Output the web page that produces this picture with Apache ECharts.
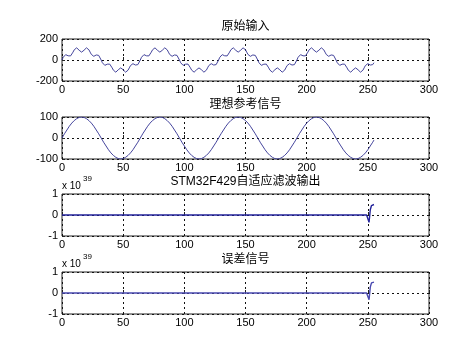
<!DOCTYPE html>
<html>
<head>
<meta charset="utf-8">
<script src="https://cdn.jsdelivr.net/npm/echarts@6/dist/echarts.min.js"></script>
<style>
  html, body { margin: 0; padding: 0; background: #fff; }
  #chart { width: 474px; height: 355px; }
</style>
</head>
<body>
<div id="chart"></div>
<script>
// 原始输入 (sample index 0..255)
const rawInput = [
  0,26,44,51,48,40,35,39,53,75,97,112,116,108,93,80,75,80,93,108,116,112,97,75,53,39,35,40,48,51,44,26,0,-26,-44,-51,-48,-40,-35,-39,-53,-75,-97,-112,-116,-108,-93,-80,-75,-80,-93,-108,-116,-112,-97,-75,-53,-39,-35,-40,-48,-51,-44,-26,
  0,26,44,51,48,40,35,39,53,75,97,112,116,108,93,80,75,80,93,108,116,112,97,75,53,39,35,40,48,51,44,26,0,-26,-44,-51,-48,-40,-35,-39,-53,-75,-97,-112,-116,-108,-93,-80,-75,-80,-93,-108,-116,-112,-97,-75,-53,-39,-35,-40,-48,-51,-44,-26,
  0,26,44,51,48,40,35,39,53,75,97,112,116,108,93,80,75,80,93,108,116,112,97,75,53,39,35,40,48,51,44,26,0,-26,-44,-51,-48,-40,-35,-39,-53,-75,-97,-112,-116,-108,-93,-80,-75,-80,-93,-108,-116,-112,-97,-75,-53,-39,-35,-40,-48,-51,-44,-26,
  0,26,44,51,48,40,35,39,53,75,97,112,116,108,93,80,75,80,93,108,116,112,97,75,53,39,35,40,48,51,44,26,0,-26,-44,-51,-48,-40,-35,-39,-53,-75,-97,-112,-116,-108,-93,-80,-75,-80,-93,-108,-116,-112,-97,-75,-53,-39,-35,-40,-48,-51,-44,-26
];

// 理想参考信号
const refSignal = [
  0,10,20,29,38,47,56,63,71,77,83,88,92,96,98,100,100,100,98,96,92,88,83,77,71,63,56,47,38,29,20,10,0,-10,-20,-29,-38,-47,-56,-63,-71,-77,-83,-88,-92,-96,-98,-100,-100,-100,-98,-96,-92,-88,-83,-77,-71,-63,-56,-47,-38,-29,-20,-10,
  0,10,20,29,38,47,56,63,71,77,83,88,92,96,98,100,100,100,98,96,92,88,83,77,71,63,56,47,38,29,20,10,0,-10,-20,-29,-38,-47,-56,-63,-71,-77,-83,-88,-92,-96,-98,-100,-100,-100,-98,-96,-92,-88,-83,-77,-71,-63,-56,-47,-38,-29,-20,-10,
  0,10,20,29,38,47,56,63,71,77,83,88,92,96,98,100,100,100,98,96,92,88,83,77,71,63,56,47,38,29,20,10,0,-10,-20,-29,-38,-47,-56,-63,-71,-77,-83,-88,-92,-96,-98,-100,-100,-100,-98,-96,-92,-88,-83,-77,-71,-63,-56,-47,-38,-29,-20,-10,
  0,10,20,29,38,47,56,63,71,77,83,88,92,96,98,100,100,100,98,96,92,88,83,77,71,63,56,47,38,29,20,10,0,-10,-20,-29,-38,-47,-56,-63,-71,-77,-83,-88,-92,-96,-98,-100,-100,-100,-98,-96,-92,-88,-83,-77,-71,-63,-56,-47,-38,-29,-20,-10
];

// 自适应滤波输出 / 误差 (units of 1e39), flat at 0 until the blow-up near the end
const blowIdx = [0, 249, 250, 251, 252, 253, 254, 255];
const filterOut = [0, 0, 0.02, -0.35, 0.25, 0.45, 0.5, 0.5];
const errSignal = [0, 0, 0.02, -0.32, 0.28, 0.48, 0.52, 0.52];

const xTicks = { min: 0, max: 300, interval: 50 };
const yRanges = [[-200, 200, 200], [-100, 100, 100], [-1, 1, 1], [-1, 1, 1]];
const titles = ['原始输入', '理想参考信号', 'STM32F429自适应滤波输出', '误差信号'];

const gridTops = [39, 117, 194, 272];
const gridH = 42;
const font = 'Liberation Sans, Arial, sans-serif';
const cjkFont = 'Liberation Sans, Noto Sans CJK SC, sans-serif';
const dotted = { color: '#111', width: 1, type: [2, 3] };

let grids = [], xAxes = [], yAxes = [], series = [], texts = [];

gridTops.forEach((top, k) => {
  grids.push({
    left: 62, right: 45, top: top, height: gridH,
    show: true, borderColor: '#222', borderWidth: 1, backgroundColor: '#fff'
  });
  xAxes.push({
    type: 'value', gridIndex: k, min: xTicks.min, max: xTicks.max, interval: xTicks.interval,
    axisLine: { show: false },
    axisTick: { show: true, inside: true, length: 3, lineStyle: { color: '#222' } },
    axisLabel: { color: '#000', fontSize: 11, fontFamily: font, margin: 3 },
    splitLine: { show: true, lineStyle: dotted }
  });
  yAxes.push({
    type: 'value', gridIndex: k, min: yRanges[k][0], max: yRanges[k][1], interval: yRanges[k][2],
    axisLine: { show: false },
    axisTick: { show: true, inside: true, length: 3, lineStyle: { color: '#222' } },
    axisLabel: { color: '#000', fontSize: 11, fontFamily: font, margin: 4 },
    splitLine: { show: true, lineStyle: dotted }
  });
  texts.push({
    type: 'text', x: 245.5, y: top - 12, z: 10,
    style: { text: titles[k], fill: '#000', font: '12px ' + cjkFont, textAlign: 'center', textVerticalAlign: 'middle' }
  });
});

// x 10^39 labels for the last two plots
[2, 3].forEach(k => {
  texts.push({
    type: 'text', x: 62, y: gridTops[k] - 8, z: 10,
    style: { text: 'x 10', fill: '#000', font: '10px ' + font, textAlign: 'left', textVerticalAlign: 'middle' }
  });
  texts.push({
    type: 'text', x: 83, y: gridTops[k] - 15, z: 10,
    style: { text: '39', fill: '#000', font: '8px ' + font, textAlign: 'left', textVerticalAlign: 'middle' }
  });
});

series.push({
  type: 'line', xAxisIndex: 0, yAxisIndex: 0, showSymbol: false,
  lineStyle: { color: '#44449c', width: 1 },
  data: rawInput.map((v, i) => [i, v])
});
series.push({
  type: 'line', xAxisIndex: 1, yAxisIndex: 1, showSymbol: false,
  lineStyle: { color: '#44449c', width: 1 },
  data: refSignal.map((v, i) => [i, v])
});
series.push({
  type: 'line', xAxisIndex: 2, yAxisIndex: 2, showSymbol: false,
  lineStyle: { color: '#22229a', width: 1.4 },
  data: filterOut.map((v, i) => [blowIdx[i], v])
});
series.push({
  type: 'line', xAxisIndex: 3, yAxisIndex: 3, showSymbol: false,
  lineStyle: { color: '#4848b0', width: 1.4 },
  data: errSignal.map((v, i) => [blowIdx[i], v])
});

const myChart = echarts.init(document.getElementById('chart'), null, { renderer: 'canvas' });
myChart.setOption({
  animation: false,
  backgroundColor: '#fff',
  grid: grids,
  xAxis: xAxes,
  yAxis: yAxes,
  series: series,
  graphic: texts
});
</script>
</body>
</html>
